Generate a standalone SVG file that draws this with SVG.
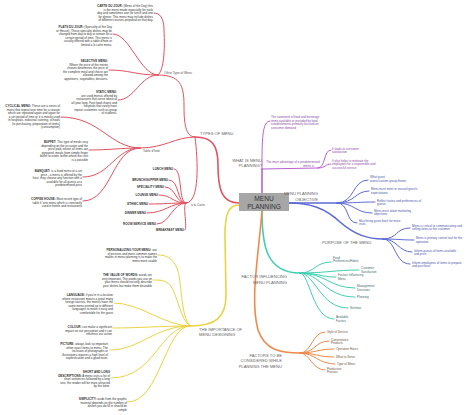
<svg xmlns="http://www.w3.org/2000/svg" width="474" height="415" viewBox="0 0 474 415">
<style>
text{font-family:"Liberation Sans",Arial,sans-serif}
.d{font-size:3px;fill:#333}
.dr{font-size:3px;fill:#333;text-anchor:end}
.b{font-weight:bold}
.h{font-size:4.1px;fill:#666}
.he{font-size:4.1px;fill:#666;text-anchor:end}
.m{font-size:3px;fill:#333;font-weight:bold;text-anchor:end}
.pu{font-size:3px;fill:#8a48a6}
.bl{font-size:3px;fill:#4a54a8}
.te{font-size:3px;fill:#3f6b66}
.or{font-size:3px;fill:#6e5548}
.sm{font-size:3.2px;fill:#555}
path{fill:none;stroke-linecap:round}
.R{stroke:#e2525f}
.P{stroke:#b862d2}
.B{stroke:#5d6bd6}
.T{stroke:#3fcfb0}
.O{stroke:#f08a4b}
.Y{stroke:#e8d443}
.w1{stroke-width:1.6}
.w2{stroke-width:1}
</style>
<rect width="474" height="415" fill="#fff"/>
<g id="connectors">
<!-- red -->
<path class="R w1" d="M239,203 C222,203 218,190 218,165 C218,145 212,137 195,137"/>
<path class="R w2" d="M195,137 C185,137 184,122 184,105 C184,85 180,75 158,75"/>
<path class="R w2" d="M158,75 C164,70 165,50 164,30 C164,18 160,13 154,13"/>
<path class="R w2" d="M158,75 C140,75 130,34 113,34"/>
<path class="R w2" d="M158,75 C135,75 130,70 109,70"/>
<path class="R w2" d="M158,75 C140,75 135,100 118,100"/>
<path class="R w2" d="M195,137 C175,137 165,148 140,148"/>
<path class="R w2" d="M140,148 C110,148 100,117 61,117"/>
<path class="R w2" d="M140,148 C120,148 110,150 89,150"/>
<path class="R w2" d="M140,148 C115,148 110,177 83,177"/>
<path class="R w2" d="M140,148 C112,148 112,201 83,201"/>
<path class="R w2" d="M195,137 C198,160 200,203 186,203"/>
<path class="R w2" d="M186,203 C178,203 183,169 174,169"/>
<path class="R w2" d="M186,203 C176,203 180,180 169,180"/>
<path class="R w2" d="M186,203 C175,203 176,187 165,187"/>
<path class="R w2" d="M186,203 C172,203 172,195 159,195"/>
<path class="R w2" d="M186,203 C170,203 165,204 149,204"/>
<path class="R w2" d="M186,203 C170,203 165,213 147,213"/>
<path class="R w2" d="M186,203 C172,203 170,224 157,224"/>
<path class="R w2" d="M186,203 C182,203 188,230 185,230"/>
<!-- purple -->
<path class="P w1" d="M262,193 L262,169"/>
<path class="P w2" d="M262,169 C262,140 262,121 270,121"/>
<path class="P w2" d="M262,169 L318,168"/>
<path class="P w2" d="M318,168 C326,168 323,150 331,150"/>
<path class="P w2" d="M318,168 C326,168 325,164 331,164"/>
<!-- blue -->
<path class="B w1" d="M289,203 L337,203"/>
<path class="B w2" d="M337,203 C355,203 352,180 368,180"/>
<path class="B w2" d="M337,203 C355,203 355,191 369,191"/>
<path class="B w2" d="M337,203 C355,203 358,202 375,202"/>
<path class="B w2" d="M337,203 C355,203 355,213 372,213"/>
<path class="B w2" d="M337,203 C350,203 345,223 357,223"/>
<path class="B w1" d="M289,203 C310,203 325,208 340,222 C355,235 368,239 383,239"/>
<path class="B w2" d="M383,239 C398,239 395,228 410,228"/>
<path class="B w2" d="M383,239 C398,239 400,240 414,240"/>
<path class="B w2" d="M383,239 C398,239 398,252 412,252"/>
<path class="B w2" d="M383,239 C396,239 394,264 410,264"/>
<!-- teal -->
<path class="T w1" d="M262,211 C262,245 266,273 300,273"/>
<path class="T w2" d="M300,273 C315,273 315,262 331,262"/>
<path class="T w2" d="M300,273 C325,273 335,270 359,270"/>
<path class="T w2" d="M300,273 C318,273 320,277 336,277"/>
<path class="T w2" d="M300,273 C325,273 330,288 355,288"/>
<path class="T w2" d="M300,273 C320,273 325,297 355,297"/>
<path class="T w2" d="M300,273 C315,273 320,308 348,308"/>
<path class="T w2" d="M300,273 C310,273 312,319 334,319"/>
<!-- orange -->
<path class="O w1" d="M262,211 C258,260 250,300 258,330 C265,350 280,353 300,353"/>
<path class="O w2" d="M300,353 C312,353 312,332 325,332"/>
<path class="O w2" d="M300,353 C315,353 315,341 329,341"/>
<path class="O w2" d="M300,353 C315,353 318,349 334,349"/>
<path class="O w2" d="M300,353 C315,353 318,357 334,357"/>
<path class="O w2" d="M300,353 C315,353 318,364 335,364"/>
<path class="O w2" d="M300,353 C310,353 312,370 325,370"/>
<!-- yellow -->
<path class="Y w1" d="M239,205 C228,205 225,215 225,235 L226,295 C226,318 215,326 190,326"/>
<path class="Y w2" d="M190,326 C180,315 182,280 177,268 C172,257 165,255 158,255"/>
<path class="Y w2" d="M190,326 C180,320 178,295 170,285 C165,280 160,280 153,280"/>
<path class="Y w2" d="M190,326 C165,326 140,303 114,303"/>
<path class="Y w2" d="M190,326 C160,326 140,328 113,328"/>
<path class="Y w2" d="M190,326 C155,326 140,350 110,350"/>
<path class="Y w2" d="M190,326 C160,326 155,378 111,378"/>
<path class="Y w2" d="M190,326 C165,326 160,402 128,402"/>
</g>

<g id="center">
<rect x="239" y="193" width="50" height="18" fill="#a6a6a6"/>
<text x="264" y="201" font-size="6.6" fill="#333" text-anchor="middle">MENU</text>
<text x="264" y="208.6" font-size="6.6" fill="#333" text-anchor="middle">PLANNING</text>
</g>

<g id="types-of-menu"><text class="h" x="200" y="134.5">TYPES OF MENU</text></g>
<g id="other-type"><text class="sm" x="164" y="73.5">Other Type of Menu</text></g>
<g id="table-dhote"><text class="sm" x="143" y="152">Table d'hote</text></g>
<g id="a-la-carte"><text class="sm" x="191" y="206">à la Carte</text></g>

<g id="carte-du-jour"><text class="dr" y="7"><tspan x="153" class="b">CARTE DU JOUR:</tspan><tspan> (Menu of the Day) this</tspan><tspan x="153" dy="3.5">is the menu made especially for each</tspan><tspan x="153" dy="3.5">day and sometimes one for lunch and one</tspan><tspan x="153" dy="3.5">for dinner. This menu may include dishes</tspan><tspan x="153" dy="3.5">of different courses prepared on that day.</tspan></text></g>
<g id="plats-du-jour"><text class="dr" y="28"><tspan x="112" class="b">PLATS DU JOUR:</tspan><tspan> (Specialty of the Day</tspan><tspan x="112" dy="3.5">or House). These specialty dishes may be</tspan><tspan x="112" dy="3.5">changed from day to day or remain for a</tspan><tspan x="112" dy="3.5">certain period of time. This menu is</tspan><tspan x="112" dy="3.5">usually offered with a table d'hote or</tspan><tspan x="112" dy="3.5">limited a la carte menu.</tspan></text></g>
<g id="selective-menu"><text class="dr" y="62"><tspan x="108" class="b">SELECTIVE MENU:</tspan><tspan x="108" dy="3.5">Where the price of the entrée</tspan><tspan x="108" dy="3.5">chosen determines the price of</tspan><tspan x="108" dy="3.5">the complete meal and choice are</tspan><tspan x="108" dy="3.5">allowed among the</tspan><tspan x="108" dy="3.5">appetizers, vegetables, desserts.</tspan></text></g>
<g id="static-menu"><text class="dr" y="93"><tspan x="117" class="b">STATIC MENU:</tspan><tspan x="117" dy="3.5">are used menus offered by</tspan><tspan x="117" dy="3.5">restaurants that serve identical</tspan><tspan x="117" dy="3.5">all year long. Fast food chains and</tspan><tspan x="117" dy="3.5">hospitals that rarely have</tspan><tspan x="117" dy="3.5">repeat customers such as group</tspan><tspan x="117" dy="3.5">of students.</tspan></text></g>
<g id="cyclical-menu"><text class="dr" y="107"><tspan x="60" class="b">CYCLICAL MENU:</tspan><tspan> These are a series of</tspan><tspan x="60" dy="3.5">menu that repeat over time for a season</tspan><tspan x="60" dy="3.5">which are repeated again and again for</tspan><tspan x="60" dy="3.5">a set period of time or it is mostly used</tspan><tspan x="60" dy="3.5">in hospitals, industrial catering, schools</tspan><tspan x="60" dy="3.5">(in purchasing, preparation of items)</tspan><tspan x="60" dy="3.5">(consumption)</tspan></text></g>
<g id="buffet"><text class="dr" y="143"><tspan x="88" class="b">BUFFET:</tspan><tspan> This type of meals vary</tspan><tspan x="88" dy="3.5">depending on the occasion and the</tspan><tspan x="88" dy="3.5">price paid, where all items are</tspan><tspan x="88" dy="3.5">prepared, meals from simple finger</tspan><tspan x="88" dy="3.5">buffet to exotic buffet where the cost</tspan><tspan x="88" dy="3.5">is a possible</tspan></text></g>
<g id="banquet"><text class="dr" y="172"><tspan x="82" class="b">BANQUET:</tspan><tspan> is a fixed menu at a set</tspan><tspan x="82" dy="3.5">price - a menu is offered by the</tspan><tspan x="82" dy="3.5">host, they choose any function with a</tspan><tspan x="82" dy="3.5">available for all guests at a</tspan><tspan x="82" dy="3.5">predetermined price</tspan></text></g>
<g id="coffee-house"><text class="dr" y="200"><tspan x="82" class="b">COFFEE HOUSE:</tspan><tspan> Most recent type of</tspan><tspan x="82" dy="3.5">table if 'one menu which is constantly</tspan><tspan x="82" dy="3.5">used in hotels and restaurants</tspan></text></g>

<g id="lunch"><text class="m" x="173" y="170.2">LUNCH MENU</text></g>
<g id="brunch"><text class="m" x="168" y="181.2">BRUNCH/SUPPER MENU</text></g>
<g id="speciality"><text class="m" x="164" y="188.2">SPECIALITY MENU</text></g>
<g id="lounge"><text class="m" x="158" y="196.2">LOUNGE MENU</text></g>
<g id="ethnic"><text class="m" x="148" y="205.2">ETHNIC MENU</text></g>
<g id="dinner"><text class="m" x="146" y="214.2">DINNER MENU</text></g>
<g id="room-service"><text class="m" x="156" y="225.2">ROOM SERVICE MENU</text></g>
<g id="breakfast"><text class="m" x="184" y="231.2">BREAKFAST MENU</text></g>

<g id="what-is"><text class="he" x="262" y="161.5">WHAT IS MENU</text><text class="he" x="262" y="167">PLANNING?</text></g>
<g id="statement"><text class="pu" y="118"><tspan x="271">The statement of food and beverage</tspan><tspan x="271" dy="3.5">items available or provided by food</tspan><tspan x="271" dy="3.5">establishments primarily focused on</tspan><tspan x="271" dy="3.5">consumer demand</tspan></text></g>
<g id="main-advantage"><text class="pu" y="163" text-anchor="middle"><tspan x="293">The main advantage of a predetermined</tspan><tspan x="309" dy="3.5">menu is:</tspan></text></g>
<g id="consumer-satisfaction"><text class="pu" y="149.5"><tspan x="332">It leads to consumer</tspan><tspan x="332" dy="3.5">satisfaction</tspan></text></g>
<g id="motivate"><text class="pu" y="161.5"><tspan x="332">It also helps to motivate the</tspan><tspan x="332" dy="3.5">employees for a responsible and</tspan><tspan x="332" dy="3.5">successful service</tspan></text></g>

<g id="objective"><text class="he" x="318" y="195">MENU PLANNING</text><text class="he" x="318" y="200.5">OBJECTIVE</text></g>
<g id="obj1"><text class="bl" y="178"><tspan x="370">What guest</tspan><tspan x="370" dy="3.5">wants/custom group,theme</tspan></text></g>
<g id="obj2"><text class="bl" y="190"><tspan x="371">Menu must meet or exceed guest's</tspan><tspan x="371" dy="3.5">expectations</tspan></text></g>
<g id="obj3"><text class="bl" y="201.5"><tspan x="377">Reflect tastes and preferences of</tspan><tspan x="377" dy="3.5">guests</tspan></text></g>
<g id="obj4"><text class="bl" y="211.5"><tspan x="374">Menu must attain marketing</tspan><tspan x="374" dy="3.5">objectives</tspan></text></g>
<g id="obj5"><text class="bl" y="221.5"><tspan x="359">Must bring guest back for more</tspan><tspan x="359" dy="3.5">visits</tspan></text></g>

<g id="purpose"><text class="h" x="322" y="243.5">PURPOSE OF THE MENU</text></g>
<g id="pur1"><text class="bl" y="226.5"><tspan x="412">Menu is critical to communicating and</tspan><tspan x="412" dy="3.5">selling items to the customer</tspan></text></g>
<g id="pur2"><text class="bl" y="239"><tspan x="416">Menu is primary control tool for the</tspan><tspan x="416" dy="3.5">operation</tspan></text></g>
<g id="pur3"><text class="bl" y="251.5"><tspan x="414">Inform guests of items available</tspan><tspan x="414" dy="3.5">and price</tspan></text></g>
<g id="pur4"><text class="bl" y="263.5"><tspan x="412">Inform employees of items to prepare</tspan><tspan x="412" dy="3.5">and purchase</tspan></text></g>

<g id="factor-influencing"><text class="he" x="287" y="278">FACTOR INFLUENCING</text><text class="he" x="287" y="283.5">MENU PLANNING</text></g>
<g id="fi1"><text class="te" y="258.5"><tspan x="333">Food</tspan><tspan x="333" dy="3.5">Preferences/Habits</tspan></text></g>
<g id="fi2"><text class="te" y="269"><tspan x="361">Customer</tspan><tspan x="361" dy="3.5">Satisfaction</tspan></text></g>
<g id="fi3"><text class="te" y="276"><tspan x="338">Factors Influencing</tspan><tspan x="338" dy="3.5">Menu</tspan></text></g>
<g id="fi4"><text class="te" y="287"><tspan x="357">Management</tspan><tspan x="357" dy="3.5">Decisions</tspan></text></g>
<g id="fi5"><text class="te" x="357" y="298">Planning</text></g>
<g id="fi6"><text class="te" x="350" y="309">Nutrition</text></g>
<g id="fi7"><text class="te" y="318"><tspan x="336">Available</tspan><tspan x="336" dy="3.5">Factors</tspan></text></g>

<g id="factors-considered"><text class="he" x="282" y="357">FACTORS TO BE</text><text class="he" x="282" y="362.3">CONSIDERED WHILE</text><text class="he" x="282" y="367.6">PLANNING THE MENU</text></g>
<g id="fc1"><text class="or" x="327" y="333">Style of Service</text></g>
<g id="fc2"><text class="or" y="340.5"><tspan x="331">Convenience</tspan><tspan x="331" dy="3.5">Products</tspan></text></g>
<g id="fc3"><text class="or" x="336" y="350">Operation Hours</text></g>
<g id="fc4"><text class="or" x="336" y="358">What to Serve</text></g>
<g id="fc5"><text class="or" x="337" y="365">Type of Menu</text></g>
<g id="fc6"><text class="or" y="369.5"><tspan x="327">Production</tspan><tspan x="327" dy="3.5">Process</tspan></text></g>

<g id="importance"><text class="h" x="199" y="331">THE IMPORTANCE OF</text><text class="h" x="199" y="336.3">MENU DESIGNING</text></g>
<g id="personalizing"><text class="dr" y="251"><tspan x="157" class="b">PERSONALIZING YOUR MENU:</tspan><tspan> use</tspan><tspan x="157" dy="3.5">of pictures and more common names</tspan><tspan x="157" dy="3.5">makes in menu planning is to make the</tspan><tspan x="157" dy="3.5">menu more usable</tspan></text></g>
<g id="value-of-words"><text class="dr" y="276"><tspan x="152" class="b">THE VALUE OF WORDS:</tspan><tspan> words are</tspan><tspan x="152" dy="3.5">very important. The words you use on</tspan><tspan x="152" dy="3.5">your menu should not only describe</tspan><tspan x="152" dy="3.5">your dishes but make them desirable</tspan></text></g>
<g id="language"><text class="dr" y="296"><tspan x="113" class="b">LANGUAGE:</tspan><tspan> if you're in a location</tspan><tspan x="113" dy="3.5">where restaurant means a great many</tspan><tspan x="113" dy="3.5">foreign tourists, the menus have the</tspan><tspan x="113" dy="3.5">same menu printed up in different</tspan><tspan x="113" dy="3.5">languages to make it easy and</tspan><tspan x="113" dy="3.5">comfortable for the guest</tspan></text></g>
<g id="colour"><text class="dr" y="328"><tspan x="112" class="b">COLOUR:</tspan><tspan> can make a significant</tspan><tspan x="112" dy="3.5">impact on our perception and it can</tspan><tspan x="112" dy="3.5">influence our action</tspan></text></g>
<g id="picture"><text class="dr" y="345"><tspan x="108" class="b">PICTURE:</tspan><tspan> always look so important</tspan><tspan x="108" dy="3.5">when exact items to menu. The</tspan><tspan x="108" dy="3.5">inclusion of photographs or</tspan><tspan x="108" dy="3.5">illustrations requires a high level of</tspan><tspan x="108" dy="3.5">sophistication and a good taste.</tspan></text></g>
<g id="short-long"><text class="dr" y="373"><tspan x="110" class="b">SHORT AND LONG</tspan><tspan x="110" dy="3.5" class="b">DESCRIPTIONS:</tspan><tspan> A menu uses a list of</tspan><tspan x="110" dy="3.5">short sentences followed by a long</tspan><tspan x="110" dy="3.5">one, the reader will be more attracted</tspan><tspan x="110" dy="3.5">by the latter.</tspan></text></g>
<g id="simplicity"><text class="dr" y="400"><tspan x="127" class="b">SIMPLICITY:</tspan><tspan> aside from the graphic</tspan><tspan x="127" dy="3.5">material depends on the number of</tspan><tspan x="127" dy="3.5">dishes you do fill in should be</tspan><tspan x="127" dy="3.5">simple</tspan></text></g>
</svg>
